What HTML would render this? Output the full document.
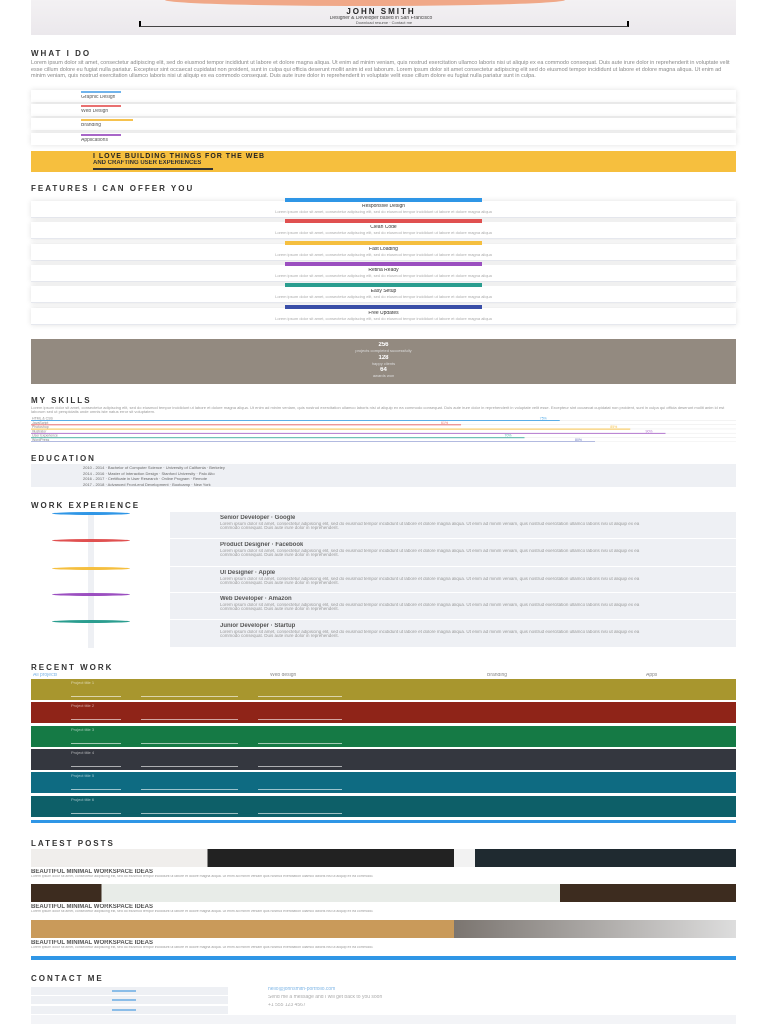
<!DOCTYPE html>
<html><head><meta charset="utf-8">
<style>
*{margin:0;padding:0;box-sizing:border-box}
body{width:768px;height:1024px;overflow:hidden;background:#fff;font-family:"Liberation Sans",sans-serif;position:relative}
.a{position:absolute}
.t{position:absolute;white-space:nowrap;overflow:hidden;line-height:1}
.h{font-size:8px;font-weight:bold;color:#333;letter-spacing:2px}
.p{font-size:5px;color:#999;line-height:6px;white-space:normal}
.shadow{box-shadow:0 0 6px rgba(0,0,0,.12)}
</style></head><body>

<div class="a" style="left:31px;top:0;width:705px;height:35px;background:linear-gradient(#f3f1f3,#ebe8ec)">
  <div class="a" style="left:134px;top:-6px;width:400px;height:12px;border-radius:50%;background:#f0a888"></div>
  <div class="t" style="left:200px;top:8px;width:300px;text-align:center;font-size:8px;font-weight:bold;color:#222;letter-spacing:2px">JOHN SMITH</div>
  <div class="t" style="left:180px;top:16px;width:340px;text-align:center;font-size:5px;color:#444">Designer &amp; Developer based in San Francisco</div>
  <div class="a" style="left:108px;top:21px;width:490px;height:6px;border-left:2px solid #000;border-right:2px solid #000;border-bottom:1px solid #444;font-size:4px;color:#555;text-align:center;line-height:4px">Download resume · Contact me</div>
</div>

<div class="t h" style="left:31px;top:50px">WHAT I DO</div>
<div class="a p" style="left:31px;top:60px;width:705px;height:28px;overflow:hidden;font-size:5.5px;line-height:6.5px;color:#888">Lorem ipsum dolor sit amet, consectetur adipiscing elit, sed do eiusmod tempor incididunt ut labore et dolore magna aliqua. Ut enim ad minim veniam, quis nostrud exercitation ullamco laboris nisi ut aliquip ex ea commodo consequat. Duis aute irure dolor in reprehenderit in voluptate velit esse cillum dolore eu fugiat nulla pariatur. Excepteur sint occaecat cupidatat non proident, sunt in culpa qui officia deserunt mollit anim id est laborum. Lorem ipsum dolor sit amet consectetur adipiscing elit sed do eiusmod tempor incididunt ut labore et dolore magna aliqua. Ut enim ad minim veniam, quis nostrud exercitation ullamco laboris nisi ut aliquip ex ea commodo consequat. Duis aute irure dolor in reprehenderit in voluptate velit esse cillum dolore eu fugiat nulla pariatur sunt in culpa.</div>
<div id="svc"></div>

<div class="a" style="left:31px;top:151px;width:705px;height:21px;background:#f6bf3e">
  <div class="t" style="left:62px;top:2px;font-size:7px;font-weight:bold;color:#222;letter-spacing:1px">I LOVE BUILDING THINGS FOR THE WEB</div>
  <div class="t" style="left:62px;top:9px;font-size:6px;font-weight:bold;color:#333">AND CRAFTING USER EXPERIENCES</div>
  <div class="a" style="left:62px;top:17px;width:120px;height:2px;background:#333"></div>
</div>

<div class="t h" style="left:31px;top:185px">FEATURES I CAN OFFER YOU</div>
<div id="cards"></div>

<div class="a" style="left:31px;top:339px;width:705px;height:45px;background:#938a80;color:#fff;text-align:center">
  <div class="t" style="left:0;width:705px;top:3px;font-size:6px;font-weight:bold">256</div>
  <div class="t" style="left:0;width:705px;top:10px;font-size:4px;color:#ddd">projects completed successfully</div>
  <div class="t" style="left:0;width:705px;top:16px;font-size:6px;font-weight:bold">128</div>
  <div class="t" style="left:0;width:705px;top:23px;font-size:4px;color:#ddd">happy clients</div>
  <div class="t" style="left:0;width:705px;top:28px;font-size:6px;font-weight:bold">64</div>
  <div class="t" style="left:0;width:705px;top:35px;font-size:4px;color:#ddd">awards won</div>
</div>

<div class="t h" style="left:31px;top:397px">MY SKILLS</div>
<div class="a p" style="left:31px;top:406px;width:705px;height:11px;overflow:hidden;font-size:4px;line-height:4px">Lorem ipsum dolor sit amet, consectetur adipiscing elit, sed do eiusmod tempor incididunt ut labore et dolore magna aliqua. Ut enim ad minim veniam, quis nostrud exercitation ullamco laboris nisi ut aliquip ex ea commodo consequat. Duis aute irure dolor in reprehenderit in voluptate velit esse. Excepteur sint occaecat cupidatat non proident, sunt in culpa qui officia deserunt mollit anim id est laborum sed ut perspiciatis unde omnis iste natus error sit voluptatem.</div>
<svg class="a" id="skills" style="left:31px;top:416px" width="705" height="26"></svg>

<div class="t h" style="left:31px;top:455px">EDUCATION</div>
<div class="a" style="left:31px;top:464px;width:705px;height:23px;background:#eef0f4;font-size:4px;color:#666;line-height:5.5px;padding:1px 0 0 52px">
<div>2010 - 2014 · Bachelor of Computer Science · University of California · Berkeley</div>
<div>2014 - 2016 · Master of Interaction Design · Stanford University · Palo Alto</div>
<div>2016 - 2017 · Certificate in User Research · Online Program · Remote</div>
<div>2017 - 2018 · Advanced Front-end Development · Bootcamp · New York</div>
</div>

<div class="t h" style="left:31px;top:502px">WORK EXPERIENCE</div>
<div class="a" style="left:88px;top:512px;width:6px;height:136px;background:#eef0f4"></div>
<div id="tl"></div>

<div class="t h" style="left:31px;top:664px">RECENT WORK</div>
<div class="t" style="left:33px;top:673px;font-size:5px;color:#7fb6e6">All projects</div>
<div class="t" style="left:270px;top:673px;font-size:5px;color:#888">Web design</div>
<div class="t" style="left:487px;top:673px;font-size:5px;color:#888">Branding</div>
<div class="t" style="left:646px;top:673px;font-size:5px;color:#888">Apps</div>
<div id="works"></div>
<div class="a" style="left:31px;top:820px;width:705px;height:3px;background:#2f96e6"></div>

<div class="t h" style="left:31px;top:840px">LATEST POSTS</div>
<div id="posts"></div>
<div class="a" style="left:31px;top:956px;width:705px;height:4px;background:#2f96e6"></div>

<div class="t h" style="left:31px;top:975px">CONTACT ME</div>
<div class="a" style="left:31px;top:987px;width:197px;height:8px;background:#eef0f4"></div>
<div class="a" style="left:31px;top:996px;width:197px;height:8px;background:#eef0f4"></div>
<div class="a" style="left:31px;top:1006px;width:197px;height:8px;background:#eef0f4"></div>
<div class="a" style="left:112px;top:990px;width:24px;height:2px;background:#8bbde8"></div>
<div class="a" style="left:112px;top:999px;width:24px;height:2px;background:#8bbde8"></div>
<div class="a" style="left:112px;top:1009px;width:24px;height:2px;background:#8bbde8"></div>
<div class="a" style="left:31px;top:1015px;width:705px;height:9px;background:#f3f4f7"></div>
<div class="t" style="left:268px;top:987px;font-size:5px;color:#7fb6e6">hello@johnsmith-portfolio.com</div>
<div class="t" style="left:268px;top:995px;font-size:5px;color:#aaa">Send me a message and I will get back to you soon</div>
<div class="t" style="left:268px;top:1003px;font-size:5px;color:#aaa">+1 555 123 4567</div>

<script>
const svcColors=['#6fb3ec','#e97070','#f6c24e','#a866c8'];
const svcNames=['Graphic Design','Web Design','Branding','Applications'];
const svcTops=[90,104,118,133];
const svc=document.getElementById('svc');
svcNames.forEach((n,i)=>{
 const d=document.createElement('div');
 d.className='a shadow';
 
 
 d.style.cssText=`left:31px;top:${svcTops[i]}px;width:705px;height:12px;background:#fff`;
 d.innerHTML=`<div class="a" style="left:50px;top:1px;width:${i==2?52:40}px;height:2px;background:${svcColors[i]}"></div><div class="t" style="left:50px;top:5px;font-size:5px;color:#555">${n}</div>`;
 svc.appendChild(d);
});
const cardColors=['#2f96e6','#e05050','#f5bf3f','#9b4fc0','#2a9d8f','#3a4fa8'];
const cardNames=['Responsive Design','Clean Code','Fast Loading','Retina Ready','Easy Setup','Free Updates'];
const cards=document.getElementById('cards');
cardNames.forEach((n,i)=>{
 const top=198+i*21.3;
 const d=document.createElement('div');
 d.className='a shadow';
 
 
 d.style.cssText=`left:31px;top:${top+3}px;width:705px;height:17px;background:#fff;border-bottom:1px solid #e6e8ee`;
 d.innerHTML=`<div class="a" style="left:254px;top:-3px;width:197px;height:4px;background:${cardColors[i]}"></div><div class="t" style="left:0;width:705px;text-align:center;top:3px;font-size:5px;color:#333">${n}</div><div class="t" style="left:60px;width:585px;text-align:center;top:9px;font-size:4px;color:#aaa">Lorem ipsum dolor sit amet, consectetur adipiscing elit, sed do eiusmod tempor incididunt ut labore et dolore magna aliqua</div>`;
 cards.appendChild(d);
});
const skillNames=['HTML & CSS','JavaScript','Photoshop','Illustrator','User Experience','WordPress'];
const skillValues=[75,61,85,90,70,80];
const skillColors=['#5aaee8','#e97070','#f6c24e','#b57ad0','#4fb3a8','#6676c0'];
const W=705,x=v=>v/100*W;
const svg=document.getElementById('skills');
const NS='http://www.w3.org/2000/svg';
skillValues.forEach((v,i)=>{
 const y=2+i*4.3;
 const tr=document.createElementNS(NS,'rect');
 tr.setAttribute('x',0);tr.setAttribute('y',y+2);tr.setAttribute('width',W);tr.setAttribute('height',0.7);tr.setAttribute('fill','#eee');
 svg.appendChild(tr);
 const r=document.createElementNS(NS,'rect');
 
 
 r.setAttribute('x',0);r.setAttribute('y',y+2);r.setAttribute('width',x(v));r.setAttribute('height',1);r.setAttribute('fill',skillColors[i]);
 svg.appendChild(r);
 const t=document.createElementNS(NS,'text');
 t.setAttribute('x',1);t.setAttribute('y',y+1.5);t.setAttribute('font-size','3.5');t.setAttribute('fill','#888');t.textContent=skillNames[i];
 svg.appendChild(t);
 const p=document.createElementNS(NS,'text');
 p.setAttribute('x',x(v)-20);p.setAttribute('y',y+1.5);p.setAttribute('font-size','3.5');p.setAttribute('fill',skillColors[i]);p.textContent=v+'%';
 svg.appendChild(p);
});
const tlColors=['#2f96e6','#e05050','#f5bf3f','#9b4fc0','#2a9d8f'];
const tlTops=[512,539,567,593,620];
const tlH=[26,27,25,26,27];
const tlNames=['Senior Developer · Google','Product Designer · Facebook','UI Designer · Apple','Web Developer · Amazon','Junior Developer · Startup'];
const tl=document.getElementById('tl');
tlNames.forEach((n,i)=>{
 const d=document.createElement('div');
 d.className='a';
 
 
 d.style.cssText=`left:170px;top:${tlTops[i]}px;width:566px;height:${tlH[i]}px;background:#eef0f4`;
 d.innerHTML=`<div class="t" style="left:50px;top:3px;font-size:6px;font-weight:bold;color:#555">${n}</div><div class="a p" style="left:50px;top:10px;width:420px;height:14px;overflow:hidden;font-size:4.5px;line-height:4px;color:#999">Lorem ipsum dolor sit amet, consectetur adipiscing elit, sed do eiusmod tempor incididunt ut labore et dolore magna aliqua. Ut enim ad minim veniam, quis nostrud exercitation ullamco laboris nisi ut aliquip ex ea commodo consequat. Duis aute irure dolor in reprehenderit.</div>`;
 tl.appendChild(d);
 const o=document.createElement('div');
 o.className='a';
 
 
 o.style.cssText=`left:52px;top:${tlTops[i]}px;width:78px;height:3px;border-radius:50%;background:${tlColors[i]}`;
 tl.appendChild(o);
});
const workColors=['#a8962e','#8f2418','#157a45','#34373f','#0e6b82','#0d5f68'];
const works=document.getElementById('works');
workColors.forEach((c,i)=>{
 const d=document.createElement('div');
 d.className='a';
 
 
 d.style.cssText=`left:31px;top:${679+i*23.3}px;width:705px;height:21px;background:${c}`;
 d.innerHTML=`<div class="t" style="left:40px;top:2px;font-size:4px;color:rgba(255,255,255,.6)">Project title ${i+1}</div><div class="a" style="left:40px;top:17px;width:50px;height:1px;background:rgba(255,255,255,.6)"></div><div class="a" style="left:110px;top:17px;width:97px;height:1px;background:rgba(255,255,255,.6)"></div><div class="a" style="left:227px;top:17px;width:84px;height:1px;background:rgba(255,255,255,.6)"></div>`;
 works.appendChild(d);
});
const postBg=['linear-gradient(90deg,#f0eeec 0 25%,#222 25% 60%,#f2f2f2 60% 63%,#1f2a30 63%)','linear-gradient(90deg,#3d2c1f 0 10%,#e8ece8 10% 75%,#3d2c1f 75%)','linear-gradient(90deg,#c99a5a 0 60%,#7b7570 60%,#ddd)'];
const postTops=[849,884,920];
const posts=document.getElementById('posts');
postBg.forEach((b,i)=>{
 const d=document.createElement('div');
 d.className='a';
 
 
 d.style.cssText=`left:31px;top:${postTops[i]}px;width:705px;height:32px`;
 d.innerHTML=`<div class="a" style="left:0;top:0;width:705px;height:18px;background:${b}"></div><div class="t" style="left:0;top:20px;font-size:6px;font-weight:bold;color:#555">BEAUTIFUL MINIMAL WORKSPACE IDEAS</div><div class="a p" style="left:0;top:26px;width:700px;height:6px;overflow:hidden;font-size:3.5px;line-height:3px">Lorem ipsum dolor sit amet, consectetur adipiscing elit, sed do eiusmod tempor incididunt ut labore et dolore magna aliqua. Ut enim ad minim veniam quis nostrud exercitation ullamco laboris nisi ut aliquip ex ea commodo.</div>`;
 posts.appendChild(d);
});
</script>
</body></html>
